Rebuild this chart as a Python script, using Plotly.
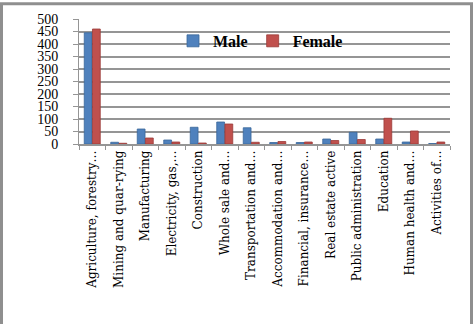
import plotly.graph_objects as go

categories = [
    "Agriculture, forestry…", "Mining and quar-rying", "Manufacturing",
    "Electricity, gas,…", "Construction", "Whole sale and…",
    "Transportation and…", "Accommodation and…", "Financial, insurance…",
    "Real estate active", "Public administration", "Education",
    "Human health and…", "Activities of…",
]
male = [445, 7, 60, 16, 67, 88, 65, 6, 6, 20, 47, 20, 8, 2]
female = [460, 3, 24, 8, 4, 80, 7, 10, 8, 14, 18, 103, 52, 8]
y_ticks = list(range(0, 501, 50))

W, H = 474, 327
ML, MR, MT, MB = 79, 24, 17, 183
pw, ph = W - ML - MR, H - MT - MB

def px_x(p):
    return (p - ML) / pw

def px_y(p):
    return 1 - (p - MT) / ph

fig = go.Figure()
fig.add_trace(go.Bar(x=categories, y=male, name="Male",
                     marker=dict(color="#4F81BD", line=dict(color="#3A6799", width=0.8))))
fig.add_trace(go.Bar(x=categories, y=female, name="Female",
                     marker=dict(color="#C0504D", line=dict(color="#9A3B38", width=0.8))))

frame_style = dict(type="line", xref="paper", yref="paper",
                   line=dict(color="#8F8F8F", width=3), layer="above")
shapes = [
    dict(frame_style, x0=px_x(1.5), x1=px_x(1.5), y0=px_y(1.5), y1=px_y(327)),
    dict(frame_style, x0=px_x(471.5), x1=px_x(471.5), y0=px_y(1.5), y1=px_y(327)),
    dict(frame_style, x0=px_x(0), x1=px_x(473), y0=px_y(1.5), y1=px_y(1.5)),
]

fig.update_layout(
    width=W, height=H,
    margin=dict(l=ML, r=MR, t=MT, b=MB),
    paper_bgcolor="white", plot_bgcolor="white",
    barmode="group", bargap=0.38, bargroupgap=0.05,
    showlegend=True,
    legend=dict(orientation="h", x=px_x(173), y=px_y(22), xanchor="left", yanchor="top",
                font=dict(family="Liberation Serif", size=16, color="black", weight="bold"),
                bgcolor="rgba(0,0,0,0)", itemwidth=30, traceorder="normal"),
    font=dict(family="Liberation Serif", color="black"),
    shapes=shapes,
)
fig.update_yaxes(range=[0, 500], tickvals=y_ticks, showgrid=True, gridcolor="#959595",
                 gridwidth=1.5, showline=True, linecolor="#959595", linewidth=1,
                 ticks="outside", ticklen=5, tickcolor="#959595",
                 tickfont=dict(family="Liberation Serif", size=14, color="black"),
                 ticklabelstandoff=12, zeroline=False)
fig.update_xaxes(tickangle=-90, showline=True, linecolor="#959595", linewidth=1.5,
                 ticks="outside", ticklen=4, tickcolor="#959595", tickson="boundaries",
                 tickfont=dict(family="DejaVu Serif", size=12, color="black"))

fig.write_html("out.html")
